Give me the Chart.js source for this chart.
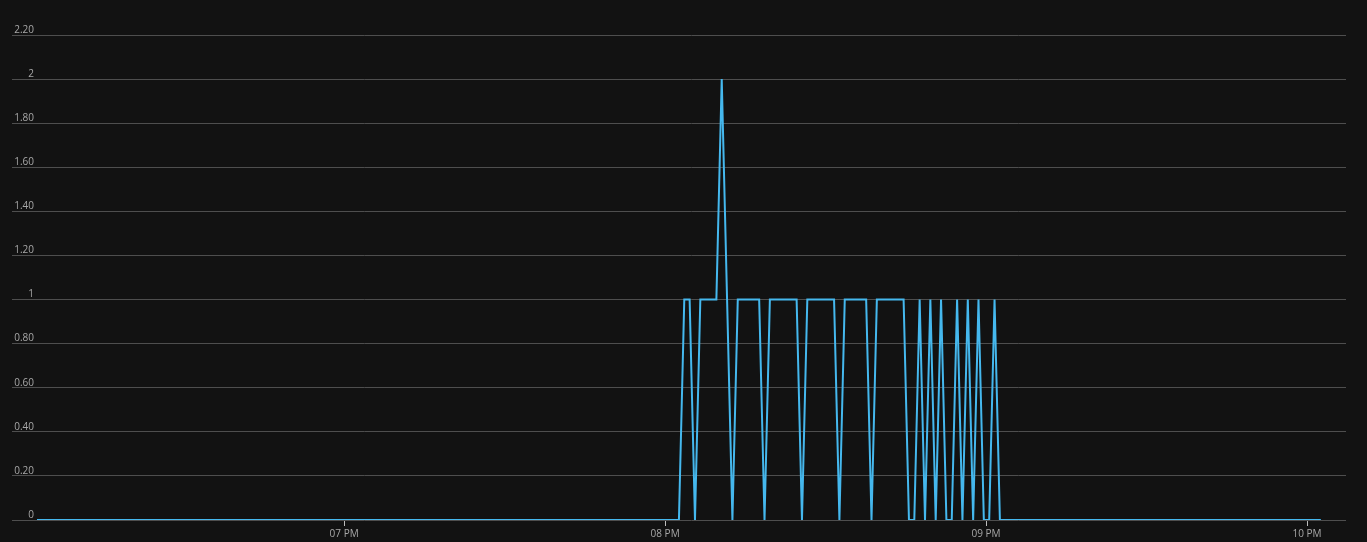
<!DOCTYPE html>
<html>
<head>
<meta charset="utf-8">
<title>Chart</title>
<script src="https://cdn.jsdelivr.net/npm/chart.js@4.4.1/dist/chart.umd.min.js"></script>
<style>
  html, body { margin: 0; padding: 0; background: #121212; overflow: hidden; }
  #wrap { width: 1367px; height: 542px; }
</style>
</head>
<body>
<div id="wrap"><canvas id="chart" width="1367" height="542"></canvas></div>
<script>
  // first sample time, then one sample per minute
  var startTime = "18:02:35";

  // values, one per minute from 18:02:35 to 22:02:35
  var values = [
    0,0,0,0,0,0,0,0,0,0,
    0,0,0,0,0,0,0,0,0,0,
    0,0,0,0,0,0,0,0,0,0,
    0,0,0,0,0,0,0,0,0,0,
    0,0,0,0,0,0,0,0,0,0,
    0,0,0,0,0,0,0,0,0,0,
    0,0,0,0,0,0,0,0,0,0,
    0,0,0,0,0,0,0,0,0,0,
    0,0,0,0,0,0,0,0,0,0,
    0,0,0,0,0,0,0,0,0,0,
    0,0,0,0,0,0,0,0,0,0,
    0,0,0,0,0,0,0,0,0,0,
    0,1,1,0,1,1,1,1,2,1,
    0,1,1,1,1,1,0,1,1,1,
    1,1,1,0,1,1,1,1,1,1,
    0,1,1,1,1,1,0,1,1,1,
    1,1,1,0,0,1,0,1,0,1,
    0,0,1,0,1,0,1,0,0,1,
    0,0,0,0,0,0,0,0,0,0,
    0,0,0,0,0,0,0,0,0,0,
    0,0,0,0,0,0,0,0,0,0,
    0,0,0,0,0,0,0,0,0,0,
    0,0,0,0,0,0,0,0,0,0,
    0,0,0,0,0,0,0,0,0,0,
    0
  ];

  // x ticks (hours of the day) and their labels
  var tickHours = [19, 20, 21, 22];
  var tickLabels = ["07 PM", "08 PM", "09 PM", "10 PM"];

  // y ticks
  var yTicks = [0, 0.2, 0.4, 0.6, 0.8, 1, 1.2, 1.4, 1.6, 1.8, 2, 2.2];

  function toMinutes(str) {
    var p = str.split(":");
    return parseInt(p[0]) * 60 + parseInt(p[1]) + parseInt(p[2]) / 60;
  }

  var t0 = toMinutes(startTime);
  var points = [];
  for (var i = 0; i < values.length; i++) {
    points.push({ x: t0 + i, y: values[i] });
  }

  var labelFont = { family: "'Open Sans', 'Noto Sans', sans-serif", size: 10 };

  var canvas = document.getElementById('chart');
  var chart = new Chart(canvas, {
    type: 'line',
    data: {
      datasets: [{
        label: 'Value',
        data: points,
        borderColor: '#45b8ee',
        borderWidth: 2,
        pointRadius: 0,
        pointHoverRadius: 0,
        tension: 0,
        fill: false
      }]
    },
    options: {
      responsive: false,
      animation: false,
      events: [],
      layout: { padding: { top: 35, right: 21, bottom: 0, left: 0 } },
      plugins: {
        legend: { display: false },
        tooltip: { enabled: false }
      },
      scales: {
        x: {
          type: 'linear',
          min: t0,
          max: t0 + 244.7,
          border: { display: false },
          grid: {
            drawOnChartArea: false,
            drawTicks: true,
            tickLength: 6,
            color: '#bdbdbd'
          },
          ticks: {
            color: '#a8a8a8',
            font: labelFont,
            padding: 2,
            maxRotation: 0,
            autoSkip: false,
            callback: function (v) {
              var k = tickHours.indexOf(Math.round(v / 60));
              return k >= 0 ? tickLabels[k] : '';
            }
          },
          afterBuildTicks: function (scale) {
            scale.ticks = tickHours.map(function (h) { return { value: h * 60 }; });
          },
          afterFit: function (scale) { scale.height = 22; }
        },
        y: {
          min: 0,
          max: 2.2,
          border: { display: false },
          grid: {
            color: '#4e4e4e',
            lineWidth: 1,
            drawTicks: true,
            tickLength: 25
          },
          ticks: {
            color: '#a8a8a8',
            font: labelFont,
            padding: -22,
            labelOffset: -5,
            callback: function (v) {
              if (Math.abs(v - Math.round(v)) < 1e-9) return String(Math.round(v));
              return v.toFixed(2);
            }
          },
          afterBuildTicks: function (scale) {
            scale.ticks = yTicks.map(function (v) { return { value: v }; });
          },
          afterFit: function (scale) { scale.width = 37; }
        }
      }
    }
  });
</script>
</body>
</html>
